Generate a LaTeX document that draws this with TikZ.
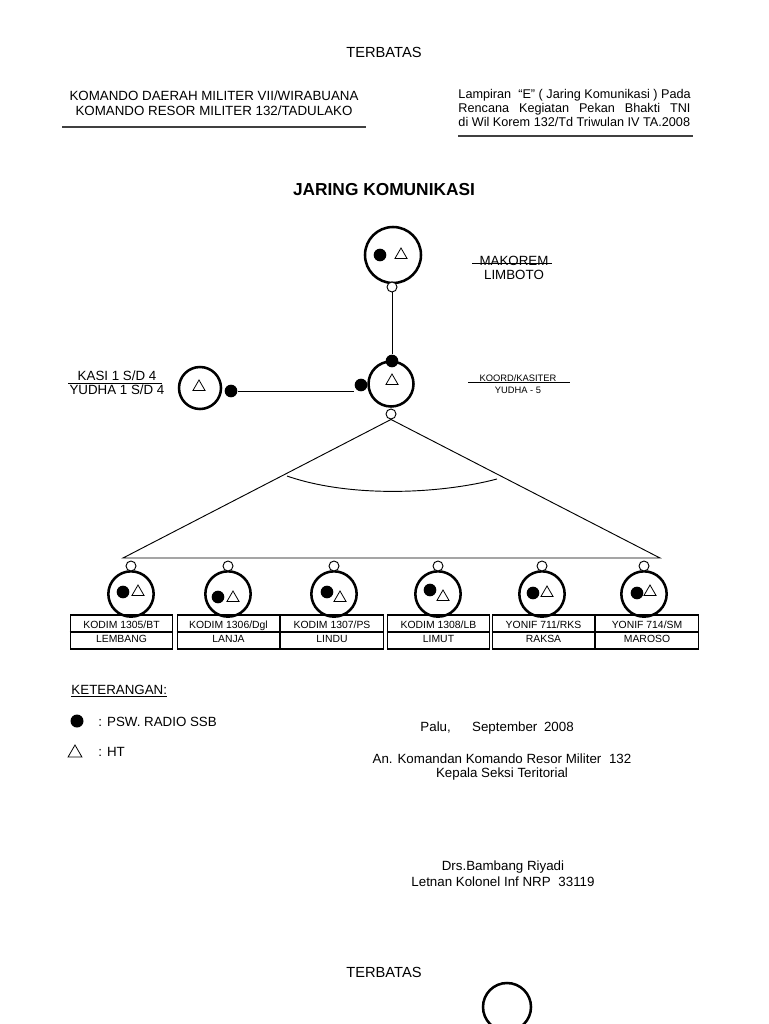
\documentclass[tikz,border=0pt]{standalone}
\usepackage{fontspec}
\setmainfont{Liberation Sans}
\usetikzlibrary{shapes.geometric, positioning}

\begin{document}
\begin{tikzpicture}[
  x=0.75pt, y=-0.75pt, line width=0.7pt,
  stn/.style={circle, draw, line width=1.9pt, inner sep=0pt, minimum size=34pt},
  ssb/.style={circle, fill, inner sep=0pt, minimum size=9.5pt},
  ht/.style={regular polygon, regular polygon sides=3, draw, line width=0.6pt, inner sep=0pt, minimum size=10.5pt},
  port/.style={circle, draw, line width=0.7pt, fill=white, inner sep=0pt, minimum size=7.5pt},
  unitbox/.style={draw, line width=0.9pt, minimum width=77pt, minimum height=25.5pt, inner sep=0pt, align=center, font=\fontsize{7.8}{10.5}\selectfont},
  txt/.style={inner sep=0pt, font=\fontsize{10}{11.25}\selectfont},
  small/.style={inner sep=0pt, font=\fontsize{7}{8}\selectfont}
]
\useasboundingbox (0,0) rectangle (768,1024);

% header
\node[txt, font=\fontsize{11}{13}\selectfont] (terbatas) at (384,52) {TERBATAS};
\node[txt, align=center] (kodam) at (214,103) {KOMANDO DAERAH MILITER VII/WIRABUANA\\KOMANDO RESOR MILITER 132/TADULAKO};
\draw[line width=1.4pt, black!75] (62,127) -- (366,127);
\node[txt, anchor=west, align=left, font=\fontsize{9.5}{10.2}\selectfont] (lampiran) at (458,108)
  {Lampiran\ \ “E" ( Jaring Komunikasi ) Pada\\\makebox[174pt][s]{Rencana Kegiatan Pekan Bhakti TNI}\\di Wil Korem 132/Td Triwulan IV TA.2008};
\draw[line width=1.4pt, black!75] (458,136) -- (693,136);

\node[inner sep=0pt, font=\bfseries\fontsize{13}{15}\selectfont] (judul) at (384,190) {JARING KOMUNIKASI};

% makorem
\node[stn, minimum size=42pt] (makorem) at (393,255) {};
\node[ssb] (mkssb) at (380,255) {};
\node[ht] (mkht) at (401,255) {};
\node[port] (mkport) at (392,287) {};
\node[txt] (mklbl) at (514,261) {MAKOREM};
\node[txt] (mkloc) at (514,275) {LIMBOTO};
\draw (472,263) -- (552,263);

% koord / kasiter
\node[stn, minimum size=33.75pt] (koord) at (391,384) {};
\node[ssb] (kdtop) at (392,361) {};
\node[ssb] (kdleft) at (361,385) {};
\node[ht] (kdht) at (392,381) {};
\node[port] (kdport) at (391,414) {};
\node[small] (kdlbl) at (518,378) {KOORD/KASITER};
\node[small] (kdloc) at (518,390) {YUDHA - 5};
\draw (468,382) -- (570,382);

% kasi
\node[stn, minimum size=31.5pt] (kasi) at (200,388) {};
\node[ht] (ksht) at (199,387) {};
\node[ssb] (ksssb) at (231,391) {};
\node[txt] (kslbl) at (117,376) {KASI 1 S/D 4};
\node[txt] (ksloc) at (117,390) {YUDHA 1 S/D 4};
\draw (68,383) -- (162,383);

\draw (mkport) -- (kdtop);
\draw (ksssb) -- (ksssb -| kdleft.west);

% fan to units
\coordinate (busL) at (123,558);
\coordinate (busR) at (660,558);
\draw (busL) -- (kdport.south) -- (busR) -- cycle;
\draw (287,476) .. controls (350,498) and (440,494) .. (497,479);

\foreach \i/\cx/\bx/\dx/\dy/\tx/\ty/\nm/\pl in {
  1/131/121.5/-8/-2/7/-2/{KODIM 1305/BT}/LEMBANG,
  2/228/228.5/-10/3/5/4/{KODIM 1306/Dgl}/LANJA,
  3/334/332/-7/-2/6/4/{KODIM 1307/PS}/LINDU,
  4/438/438.5/-8/-4/5/3/{KODIM 1308/LB}/LIMUT,
  5/542/543.5/-9/-1/5/-1/{YONIF 711/RKS}/RAKSA,
  6/644/647/-7/-1/6/-2/{YONIF 714/SM}/MAROSO}{
  \node[stn] (u\i) at (\cx,594) {};
  \node[ssb] (us\i) at ([shift={(\dx,\dy)}]u\i.center) {};
  \node[ht] (uh\i) at ([shift={(\tx,\ty)}]u\i.center) {};
  \node[port] (p\i) at (\cx,566) {};
  \node[unitbox] (b\i) at (\bx,632) {\nm\\\pl};
  \draw[line width=0.9pt] (b\i.west) -- (b\i.east);
}

% keterangan
\node[txt, anchor=west] (ket) at (71,691) {\underline{KETERANGAN:}};
\node[ssb, minimum size=9.75pt] (lgssb) at (77,721) {};
\node[txt, anchor=west] (lgssbt) at (98,722) {: PSW. RADIO SSB};
\node[ht, minimum size=12pt] (lght) at (75,753) {};
\node[txt, anchor=west] (lghtt) at (98,752) {: HT};

% tanda tangan
\node[txt, anchor=west] (palu) at (420,728) {Palu,\hspace{16pt}September\hspace{5pt}2008};
\node[txt, align=center, font=\fontsize{10}{10.5}\selectfont] (an) at (502,767) {An. Komandan Komando Resor Militer\hspace{3pt} 132\\Kepala Seksi Teritorial};
\node[txt, align=center, font=\fontsize{10}{12}\selectfont] (ttd) at (503,874) {Drs.Bambang Riyadi\\Letnan Kolonel Inf NRP\hspace{3pt} 33119};

\node[txt, font=\fontsize{11}{13}\selectfont] (terbatas2) at (384,972) {TERBATAS};
\node[stn, minimum size=36pt] (stempel) at (507,1007) {};
\end{tikzpicture}
\end{document}
